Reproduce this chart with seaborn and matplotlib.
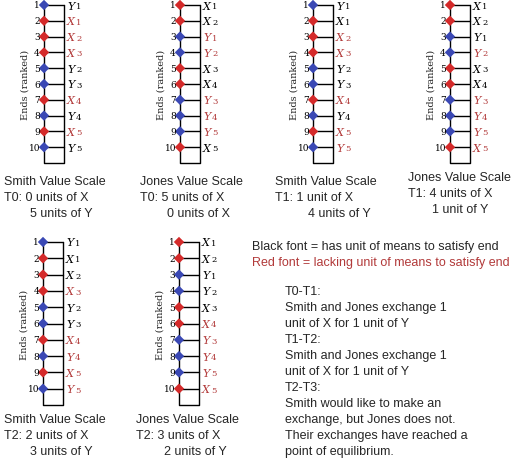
import matplotlib
matplotlib.use("Agg")
import matplotlib.pyplot as plt
import seaborn as sns
import pandas as pd

sns.set_theme(style="white")
plt.rcParams["font.family"] = ["Liberation Sans", "DejaVu Sans"]

ranks = list(range(1, 11))

smith_t0_labels = ["Y1", "X1", "X2", "X3", "Y2", "Y3", "X4", "Y4", "X5", "Y5"]
smith_t0_has = [1, 0, 0, 0, 1, 1, 0, 1, 0, 1]
jones_t0_labels = ["X1", "X2", "Y1", "Y2", "X3", "X4", "Y3", "Y4", "Y5", "X5"]
jones_t0_has = [1, 1, 0, 0, 1, 1, 0, 0, 0, 1]
smith_t1_labels = ["Y1", "X1", "X2", "X3", "Y2", "Y3", "X4", "Y4", "X5", "Y5"]
smith_t1_has = [1, 1, 0, 0, 1, 1, 0, 1, 0, 0]
jones_t1_labels = ["X1", "X2", "Y1", "Y2", "X3", "X4", "Y3", "Y4", "Y5", "X5"]
jones_t1_has = [1, 1, 1, 0, 1, 1, 0, 0, 0, 0]
smith_t2_labels = ["Y1", "X1", "X2", "X3", "Y2", "Y3", "X4", "Y4", "X5", "Y5"]
smith_t2_has = [1, 1, 1, 0, 1, 1, 0, 0, 0, 0]
jones_t2_labels = ["X1", "X2", "Y1", "Y2", "X3", "X4", "Y3", "Y4", "Y5", "X5"]
jones_t2_has = [1, 1, 1, 1, 1, 0, 0, 0, 0, 0]

captions = [
    ["Smith Value Scale", "T0: 0 units of X", "5 units of Y"],
    ["Jones Value Scale", "T0: 5 units of X", "0 units of X"],
    ["Smith Value Scale", "T1: 1 unit of X", "4 units of Y"],
    ["Jones Value Scale", "T1: 4 units of X", "1 unit of Y"],
    ["Smith Value Scale", "T2: 2 units of X", "3 units of Y"],
    ["Jones Value Scale", "T2: 3 units of X", "2 units of Y"],
]

notes = ["T0-T1:", "Smith and Jones exchange 1", "unit of X for 1 unit of Y",
         "T1-T2:", "Smith and Jones exchange 1", "unit of X for 1 unit of Y",
         "T2-T3:", "Smith would like to make an", "exchange, but Jones does not.",
         "Their exchanges have reached a", "point of equilibrium."]

RED = "#d42a2a"
BLUE = "#3a48b4"
TXT_RED = "#b23a3a"

# panel layout: (box left x, rank-1 y, row step, caption x, caption y, indent x)
panels = [
    (smith_t0_labels, smith_t0_has, 44, 6, 15.8, 4, 182, 30),
    (jones_t0_labels, jones_t0_has, 180, 6, 15.8, 140, 182, 167),
    (smith_t1_labels, smith_t1_has, 313, 6, 15.8, 275, 182, 308),
    (jones_t1_labels, jones_t1_has, 450, 6, 15.8, 408, 178, 432),
    (smith_t2_labels, smith_t2_has, 43, 243, 16.3, 4, 420, 30),
    (jones_t2_labels, jones_t2_has, 179, 243, 16.3, 136, 420, 164),
]

fig = plt.figure(figsize=(5.26, 4.64), dpi=100)
ax = fig.add_axes([0, 0, 1, 1])
ax.set_xlim(0, 526)
ax.set_ylim(464, 0)
ax.axis("off")

for (labels, has, x0, y0, step, cx, cy, ix), cap in zip(panels, captions):
    ys = [y0 + (r - 1) * step for r in ranks]
    bottom = ys[-1] + step
    w = 20
    # box
    ax.plot([x0, x0, x0 + w, x0 + w], [ys[0], bottom, bottom, ys[0]], color="black", lw=1)
    for y in ys:
        ax.plot([x0, x0 + w], [y, y], color="black", lw=1)
    df = pd.DataFrame({"x": [x0] * 10, "y": ys,
                       "kind": [l[0] for l in labels]})
    sns.scatterplot(data=df, x="x", y="y", hue="kind", palette={"X": RED, "Y": BLUE},
                    marker="D", s=28, edgecolor="none", legend=False, ax=ax, zorder=3)
    for r, y, lab, h in zip(ranks, ys, labels, has):
        ax.text(x0 - 4, y, str(r), ha="right", va="center", fontsize=6.5,
                family="DejaVu Serif", color="black")
        c = "black" if h else TXT_RED
        ax.text(x0 + w + 3, y + 0.5, lab[0], ha="left", va="center", fontsize=8,
                family="DejaVu Serif", style="italic", color=c)
        ax.text(x0 + w + 12, y + 1, lab[1], ha="left", va="center", fontsize=6,
                family="DejaVu Serif", color=c)
    ax.text(x0 - 19, (ys[0] + bottom) / 2, "Ends (ranked)", rotation=90, ha="center",
            va="center", fontsize=7, family="DejaVu Serif")
    ax.text(cx, cy, cap[0], ha="left", va="center", fontsize=9)
    ax.text(cx, cy + 16, cap[1], ha="left", va="center", fontsize=9)
    ax.text(ix, cy + 32, cap[2], ha="left", va="center", fontsize=9)

ax.text(252, 247, "Black font = has unit of means to satisfy end", fontsize=9, va="center")
ax.text(252, 263, "Red font = lacking unit of means to satisfy end", fontsize=9,
        va="center", color=TXT_RED)
for i, line in enumerate(notes):
    ax.text(285, 292 + 16 * i, line, fontsize=9, va="center")

fig.savefig("out.png", dpi=100)
